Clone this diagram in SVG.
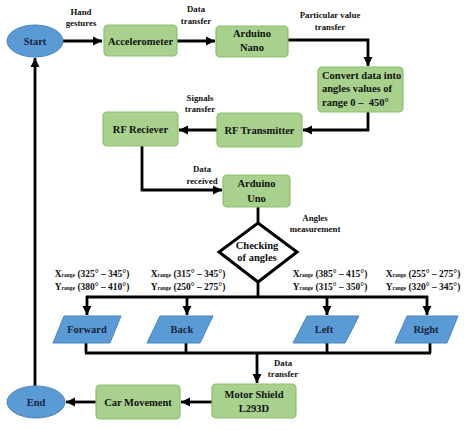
<svg xmlns="http://www.w3.org/2000/svg" width="474" height="430" viewBox="0 0 474 430">
<defs>
<style>
.box{fill:#a9d18e;stroke:#8cbf6e;stroke-width:1.2}
.ell{fill:#5b9bd5;stroke:#4a84ba;stroke-width:1}
.par{fill:#5b9bd5;stroke:#4a84ba;stroke-width:1}
.dia{fill:#fff;stroke:#000;stroke-width:3}
.t{font-family:"Liberation Serif",serif;font-weight:bold;font-size:10.5px;fill:#111;text-anchor:middle}
.ts{font-family:"Liberation Serif",serif;font-weight:bold;font-size:10.5px;fill:#111;text-anchor:start}
.tb{font-family:"Liberation Serif",serif;font-weight:bold;font-size:10.5px;fill:#1a2540;text-anchor:middle}
.l{font-family:"Liberation Serif",serif;font-weight:bold;font-size:8.8px;fill:#111;text-anchor:middle}
.r{font-family:"Liberation Serif",serif;font-weight:bold;font-size:9.5px;fill:#111;text-anchor:middle}
.sub{font-size:5.5px}
.c{fill:none;stroke:#000;stroke-width:2.8}
</style>
<marker id="ah" markerUnits="userSpaceOnUse" markerWidth="10" markerHeight="10" refX="9" refY="5" orient="auto">
<path d="M0,0.5 L9,5 L0,9.5 z" fill="#000"/>
</marker>
</defs>
<rect width="474" height="430" fill="#fff"/>
<g id="connectors">
<line class="c" x1="63" y1="41" x2="102" y2="41" marker-end="url(#ah)"/>
<line class="c" x1="177" y1="41" x2="215" y2="41" marker-end="url(#ah)"/>
<polyline class="c" points="288,40 368,40 368,66" marker-end="url(#ah)"/>
<polyline class="c" points="368,112 368,130 303,130" marker-end="url(#ah)"/>
<line class="c" x1="217" y1="130" x2="179" y2="130" marker-end="url(#ah)"/>
<polyline class="c" points="142,146 142,190 222,190" marker-end="url(#ah)"/>
<line class="c" x1="258" y1="207" x2="258" y2="223"/>
<line class="c" x1="258" y1="282" x2="258" y2="297"/>
<line class="c" x1="86" y1="297" x2="428" y2="297"/>
<line class="c" x1="87" y1="296" x2="87" y2="315" marker-end="url(#ah)"/>
<line class="c" x1="187" y1="296" x2="187" y2="315" marker-end="url(#ah)"/>
<line class="c" x1="327" y1="296" x2="327" y2="315" marker-end="url(#ah)"/>
<line class="c" x1="427" y1="296" x2="427" y2="315" marker-end="url(#ah)"/>
<line class="c" x1="86" y1="343" x2="86" y2="353"/>
<line class="c" x1="186" y1="343" x2="186" y2="353"/>
<line class="c" x1="327" y1="343" x2="327" y2="353"/>
<line class="c" x1="430" y1="343" x2="430" y2="353"/>
<line class="c" x1="85" y1="353" x2="431" y2="353"/>
<line class="c" x1="257" y1="353" x2="257" y2="383" marker-end="url(#ah)"/>
<line class="c" x1="212" y1="402" x2="181" y2="402" marker-end="url(#ah)"/>
<line class="c" x1="96" y1="402" x2="66" y2="402" marker-end="url(#ah)"/>
<line class="c" x1="35" y1="386" x2="35" y2="58" marker-end="url(#ah)"/>
<text class="l" x="81" y="15">Hand</text>
<text class="l" x="81" y="26">gestures</text>
<text class="l" x="196" y="12">Data</text>
<text class="l" x="196" y="24">transfer</text>
<text class="l" x="330" y="18">Particular value</text>
<text class="l" x="330" y="30">transfer</text>
<text class="l" x="200" y="101">Signals</text>
<text class="l" x="200" y="112">transfer</text>
<text class="l" x="202" y="172">Data</text>
<text class="l" x="202" y="184">received</text>
<text class="l" x="315" y="221">Angles</text>
<text class="l" x="315" y="232">measurement</text>
<text class="l" x="283" y="366">Data</text>
<text class="l" x="283" y="377">transfer</text>
<text class="r" x="92" y="277">X<tspan class="sub">range</tspan> (325° – 345°)</text>
<text class="r" x="92" y="290">Y<tspan class="sub">range</tspan> (380° – 410°)</text>
<text class="r" x="188" y="277">X<tspan class="sub">range</tspan> (315° – 345°)</text>
<text class="r" x="188" y="290">Y<tspan class="sub">range</tspan> (250° – 275°)</text>
<text class="r" x="330" y="277">X<tspan class="sub">range</tspan> (385° – 415°)</text>
<text class="r" x="330" y="290">Y<tspan class="sub">range</tspan> (315° – 350°)</text>
<text class="r" x="423" y="277">X<tspan class="sub">range</tspan> (255° – 275°)</text>
<text class="r" x="423" y="290">Y<tspan class="sub">range</tspan> (320° – 345°)</text>
</g>
<g id="start"><ellipse class="ell" cx="35" cy="41" rx="28" ry="16"/><text class="tb" x="35" y="45">Start</text></g>
<g id="accelerometer"><rect class="box" x="104" y="25" width="73" height="31" rx="4"/><text class="t" x="140.5" y="45">Accelerometer</text></g>
<g id="arduino-nano"><rect class="box" x="216" y="26" width="72" height="31" rx="4"/><text class="t" x="252" y="37">Arduino</text><text class="t" x="252" y="51">Nano</text></g>
<g id="convert"><rect class="box" x="318" y="67" width="85" height="45" rx="4"/><text class="ts" x="322" y="79">Convert data into</text><text class="ts" x="322" y="92">angles values of</text><text class="ts" x="322" y="106">range 0 –&#160; 450°</text></g>
<g id="rf-transmitter"><rect class="box" x="217" y="113" width="85" height="34" rx="4"/><text class="t" x="259.5" y="134">RF Transmitter</text></g>
<g id="rf-reciever"><rect class="box" x="103" y="112" width="75" height="34" rx="4"/><text class="t" x="140.5" y="133">RF Reciever</text></g>
<g id="arduino-uno"><rect class="box" x="223" y="175" width="67" height="32" rx="4"/><text class="t" x="256.5" y="187">Arduino</text><text class="t" x="256.5" y="202">Uno</text></g>
<g id="checking"><polygon class="dia" points="258,223 297,252 258,282 219,252"/><text class="t" x="257" y="249">Checking</text><text class="t" x="257" y="261">of angles</text></g>
<g id="forward"><polygon class="par" points="64,316 121,316 110,343 53,343"/><text class="tb" x="87" y="333">Forward</text></g>
<g id="back"><polygon class="par" points="160,316 213,316 200,343 147,343"/><text class="tb" x="182" y="333">Back</text></g>
<g id="left"><polygon class="par" points="307,316 359,316 345,343 293,343"/><text class="tb" x="324" y="333">Left</text></g>
<g id="right"><polygon class="par" points="407,316 458,316 447,343 395,343"/><text class="tb" x="426" y="333">Right</text></g>
<g id="motor-shield"><rect class="box" x="212" y="384" width="84" height="34" rx="4"/><text class="t" x="254" y="398">Motor Shield</text><text class="t" x="254" y="412">L293D</text></g>
<g id="car-movement"><rect class="box" x="96" y="385" width="84" height="34" rx="4"/><text class="t" x="138" y="406">Car Movement</text></g>
<g id="end"><ellipse class="ell" cx="36" cy="402" rx="29" ry="16"/><text class="tb" x="36" y="406">End</text></g>
</svg>
